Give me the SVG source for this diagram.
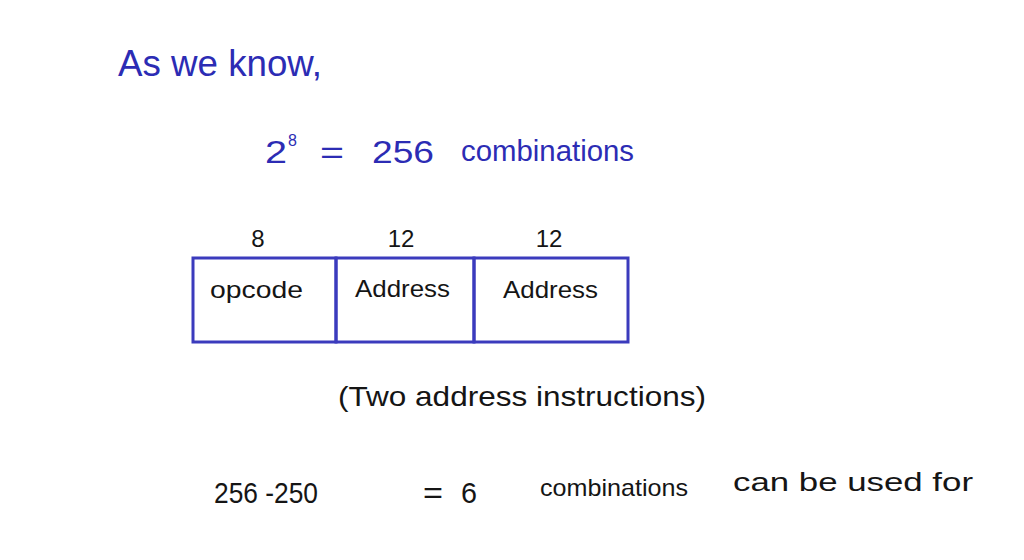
<svg xmlns="http://www.w3.org/2000/svg" width="1024" height="560" viewBox="0 0 1024 560">
<style>
.blue{fill:#2c2cb4;font-family:"Liberation Sans","Open Sans",sans-serif;}
.blk{fill:#151515;font-family:"Liberation Sans","Open Sans",sans-serif;}
.cell{fill:none;stroke:#3b3bbd;stroke-width:3;}
</style>
<rect width="1024" height="560" fill="#ffffff"/>
<g id="intro">
<text class="blue" x="118" y="76" font-size="36" textLength="204" lengthAdjust="spacingAndGlyphs">As we know,</text>
</g>
<g id="equation">
<text class="blue" x="265" y="163" font-size="32" textLength="22" lengthAdjust="spacingAndGlyphs">2</text>
<text class="blue" x="288" y="146" font-size="16">8</text>
<text class="blue" x="320" y="163" font-size="32" textLength="24" lengthAdjust="spacingAndGlyphs">=</text>
<text class="blue" x="372" y="163" font-size="32" textLength="62" lengthAdjust="spacingAndGlyphs">256</text>
<text class="blue" x="461" y="161" font-size="30" textLength="173" lengthAdjust="spacingAndGlyphs">combinations</text>
</g>
<g id="bits">
<text class="blk" x="258" y="247" font-size="24" text-anchor="middle">8</text>
<text class="blk" x="401" y="247" font-size="24" text-anchor="middle">12</text>
<text class="blk" x="549" y="247" font-size="24" text-anchor="middle">12</text>
</g>
<g id="opcode-field">
<rect class="cell" x="193" y="258" width="143" height="84"/>
<text class="blk" x="210" y="298" font-size="24" textLength="93" lengthAdjust="spacingAndGlyphs">opcode</text>
</g>
<g id="address-field-1">
<rect class="cell" x="336" y="258" width="138" height="84"/>
<text class="blk" x="355" y="297" font-size="24" textLength="95" lengthAdjust="spacingAndGlyphs">Address</text>
</g>
<g id="address-field-2">
<rect class="cell" x="474" y="258" width="154" height="84"/>
<text class="blk" x="503" y="298" font-size="24" textLength="95" lengthAdjust="spacingAndGlyphs">Address</text>
</g>
<g id="caption">
<text class="blk" x="338" y="406" font-size="28" textLength="368" lengthAdjust="spacingAndGlyphs">(Two address instructions)</text>
</g>
<g id="result">
<text class="blk" x="214" y="503" font-size="30" textLength="104" lengthAdjust="spacingAndGlyphs">256 -250</text>
<text class="blk" x="423" y="503" font-size="30" textLength="20" lengthAdjust="spacingAndGlyphs">=</text>
<text class="blk" x="461" y="503" font-size="30" textLength="16" lengthAdjust="spacingAndGlyphs">6</text>
<text class="blk" x="540" y="496" font-size="24" textLength="148" lengthAdjust="spacingAndGlyphs">combinations</text>
<text class="blk" x="733" y="491" font-size="26" textLength="240" lengthAdjust="spacingAndGlyphs">can be used for</text>
</g>
</svg>
